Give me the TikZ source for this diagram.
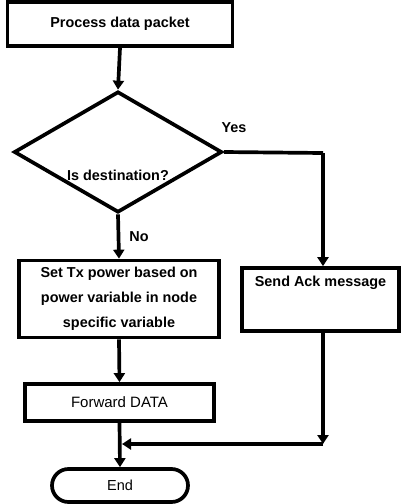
\documentclass[tikz,border=0pt]{standalone}
\usepackage{fontspec}
\setmainfont{Liberation Sans}
\usetikzlibrary{shapes.geometric,shapes.misc,arrows.meta}
\begin{document}
\begin{tikzpicture}[x=1pt,y=-1pt,
  box/.style={draw,line width=3.7pt,inner sep=0pt,minimum width=#1},
  txt/.style={font=\fontsize{14.4}{25}\selectfont\bfseries,inner sep=0pt,align=center},
  ntxt/.style={font=\fontsize{15}{25}\selectfont,inner sep=0pt,align=center},
  etxt/.style={font=\fontsize{14.5}{25}\selectfont,inner sep=0pt,align=center},
  conn/.style={line width=3.7pt,-{Triangle[length=9pt,width=11pt]}},
  plain/.style={line width=3.7pt}]
\useasboundingbox (0,0) rectangle (406,504);
\node[box=225pt,minimum height=44pt,txt] (proc) at (120,24) {Process data packet};
\node[draw,diamond,line width=3.7pt,inner sep=0pt,minimum width=208pt,minimum height=121pt] (dec) at (118,152) {};
\node[txt] (dect) at (118,175) {Is destination?};
\node[box=200pt,minimum height=77pt,txt] (settx) at (119,299) {Set Tx power based on\\power variable in node\\specific variable};
\node[box=157pt,minimum height=63pt] (ack) at (320.5,299.5) {};
\node[txt] (ackt) at (320.5,283) {Send Ack message};
\node[box=189pt,minimum height=37pt,ntxt] (fwd) at (119.5,402.5) {Forward DATA};
\node[draw,line width=3.7pt,rounded rectangle,inner sep=0pt,minimum width=136pt,minimum height=33pt,etxt] (end) at (120,485.5) {End};
\node[txt] (yes) at (234,128) {Yes};
\node[txt] (no) at (139,237) {No};
\coordinate (yc) at (323,153);
\coordinate (mc) at (323,444);
\coordinate (jc) at (120,444);
\draw[conn] (proc.south) -- (dec.north);
\draw[conn] (dec.south) -- (settx.north);
\draw[plain] (dec.east) -- (yc);
\draw[conn] (yc) -- (yc |- ack.north);
\draw[conn] (settx.south) -- (fwd.north);
\draw[conn] (fwd.south) -- (end.north);
\draw[conn] (mc |- ack.south) -- (mc);
\draw[conn] (mc) -- ([xshift=2pt]jc);
\end{tikzpicture}
\end{document}
